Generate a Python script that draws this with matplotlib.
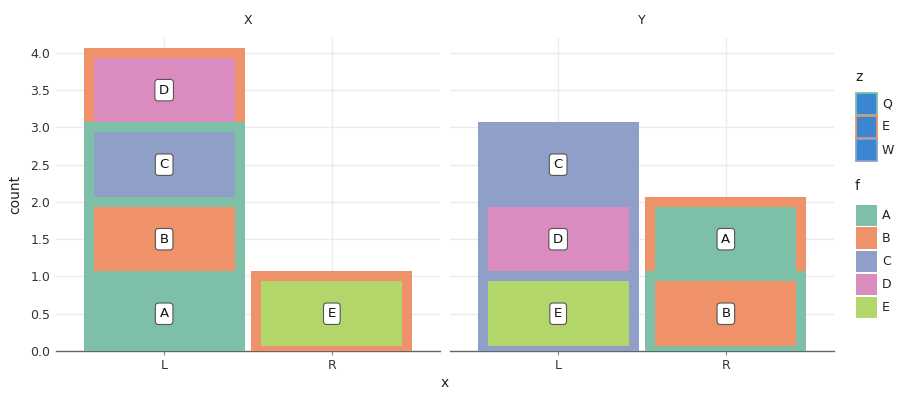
import matplotlib
matplotlib.use("Agg")
import matplotlib.pyplot as plt
from matplotlib.patches import Rectangle

plt.rcParams['font.family'] = ['DejaVu Sans']

# one row per stacked piece, bottom to top inside each bar
facets = ['X', 'X', 'X', 'X', 'X', 'Y', 'Y', 'Y', 'Y', 'Y']
xcats = ['L', 'L', 'L', 'L', 'R', 'L', 'L', 'L', 'R', 'R']
fcats = ['A', 'B', 'C', 'D', 'E', 'E', 'D', 'C', 'B', 'A']
zcats = ['Q', 'Q', 'Q', 'E', 'E', 'W', 'W', 'W', 'Q', 'E']
counts = [1, 1, 1, 1, 1, 1, 1, 1, 1, 1]

x_levels = ['L', 'R']
facet_levels = ['X', 'Y']
f_levels = ['A', 'B', 'C', 'D', 'E']
z_levels = ['Q', 'E', 'W']

f_colors = {'A': '#7dbfa7', 'B': '#ef9169', 'C': '#8f9fc7', 'D': '#da8cbe', 'E': '#b2d66a'}
z_colors = {'Q': '#7dbfa7', 'E': '#ef9169', 'W': '#8f9fc7'}
key_fill = '#3b86d3'

W, H = 905, 401
fig = plt.figure(figsize=(W / 100, H / 100), dpi=100)

panel_left = [56, 450]
panel_w = 384
top, bottom = 38, 351

axes = []
for k, fac in enumerate(facet_levels):
    ax = fig.add_axes([panel_left[k] / W, (H - bottom) / H, panel_w / W, (bottom - top) / H])
    axes.append(ax)
    ax.set_xlim(-0.645, 1.645)
    ax.set_ylim(0, 4.2)
    ax.set_yticks([0, 0.5, 1, 1.5, 2, 2.5, 3, 3.5, 4])
    ax.set_xticks(range(len(x_levels)))
    ax.set_xticklabels(x_levels)
    ax.grid(True, color='#ebebeb', lw=1.0)
    ax.set_axisbelow(True)
    for s in ['top', 'right', 'left']:
        ax.spines[s].set_visible(False)
    ax.spines['bottom'].set_color('#666666')
    ax.spines['bottom'].set_linewidth(1.0)
    ax.tick_params(axis='y', length=0, labelsize=9, labelcolor='#333333', pad=4)
    ax.tick_params(axis='x', length=3, color='#888888', labelsize=9, labelcolor='#333333', pad=3)
    if k == 0:
        ax.set_yticklabels(['0.0', '0.5', '1.0', '1.5', '2.0', '2.5', '3.0', '3.5', '4.0'])
    else:
        ax.tick_params(axis='y', labelleft=False)
    ax.set_title(fac, fontsize=9, color='#222222', pad=10)

    # stack pieces per bar
    base = {}
    pieces = []
    for i in range(len(facets)):
        if facets[i] != fac:
            continue
        xi = x_levels.index(xcats[i])
        b = base.get(xi, 0)
        pieces.append((xi, b, counts[i], fcats[i], zcats[i]))
        base[xi] = b + counts[i]
    # draw upper pieces first so lower outlines sit on top
    n = len(pieces)
    for j, (xi, b, c, f, z) in enumerate(pieces):
        ax.bar(xi, c, bottom=b, width=0.9, color=f_colors[f], edgecolor=z_colors[z],
               linewidth=7.2, zorder=10 + (n - j))
        ax.text(xi, b + c / 2, f, ha='center', va='center', fontsize=9.5, zorder=40, color='#111111',
                bbox=dict(boxstyle='round,pad=0.32,rounding_size=0.25', fc='white', ec='#555555', lw=0.8))

axes[0].set_ylabel('count', fontsize=10, color='#222222', labelpad=6)
fig.text(445 / W, 1 - 383 / H, 'x', ha='center', va='center', fontsize=10, color='#222222')


# legends, drawn as keys in figure pixels
def key(x0, y0, face, edge, lw):
    fig.add_artist(Rectangle((x0 / W, 1 - (y0 + 21.5) / H), 21.5 / W, 21.5 / H,
                             transform=fig.transFigure, fc=face, ec=edge, lw=lw))


fig.text(855 / W, 1 - 77 / H, 'z', ha='left', va='center', fontsize=10, color='#222222')
for i, z in enumerate(z_levels):
    y0 = 93 + 23 * i
    key(855.5, y0, key_fill, z_colors[z], 1.3)
    fig.text(882 / W, 1 - (y0 + 11) / H, z, ha='left', va='center', fontsize=9, color='#222222')

fig.text(855 / W, 1 - 186 / H, 'f', ha='left', va='center', fontsize=10, color='#222222')
for i, f in enumerate(f_levels):
    y0 = 204.5 + 23 * i
    key(855.5, y0, f_colors[f], 'none', 0)
    fig.text(882 / W, 1 - (y0 + 11) / H, f, ha='left', va='center', fontsize=9, color='#222222')

fig.savefig('out.png', dpi=100)
